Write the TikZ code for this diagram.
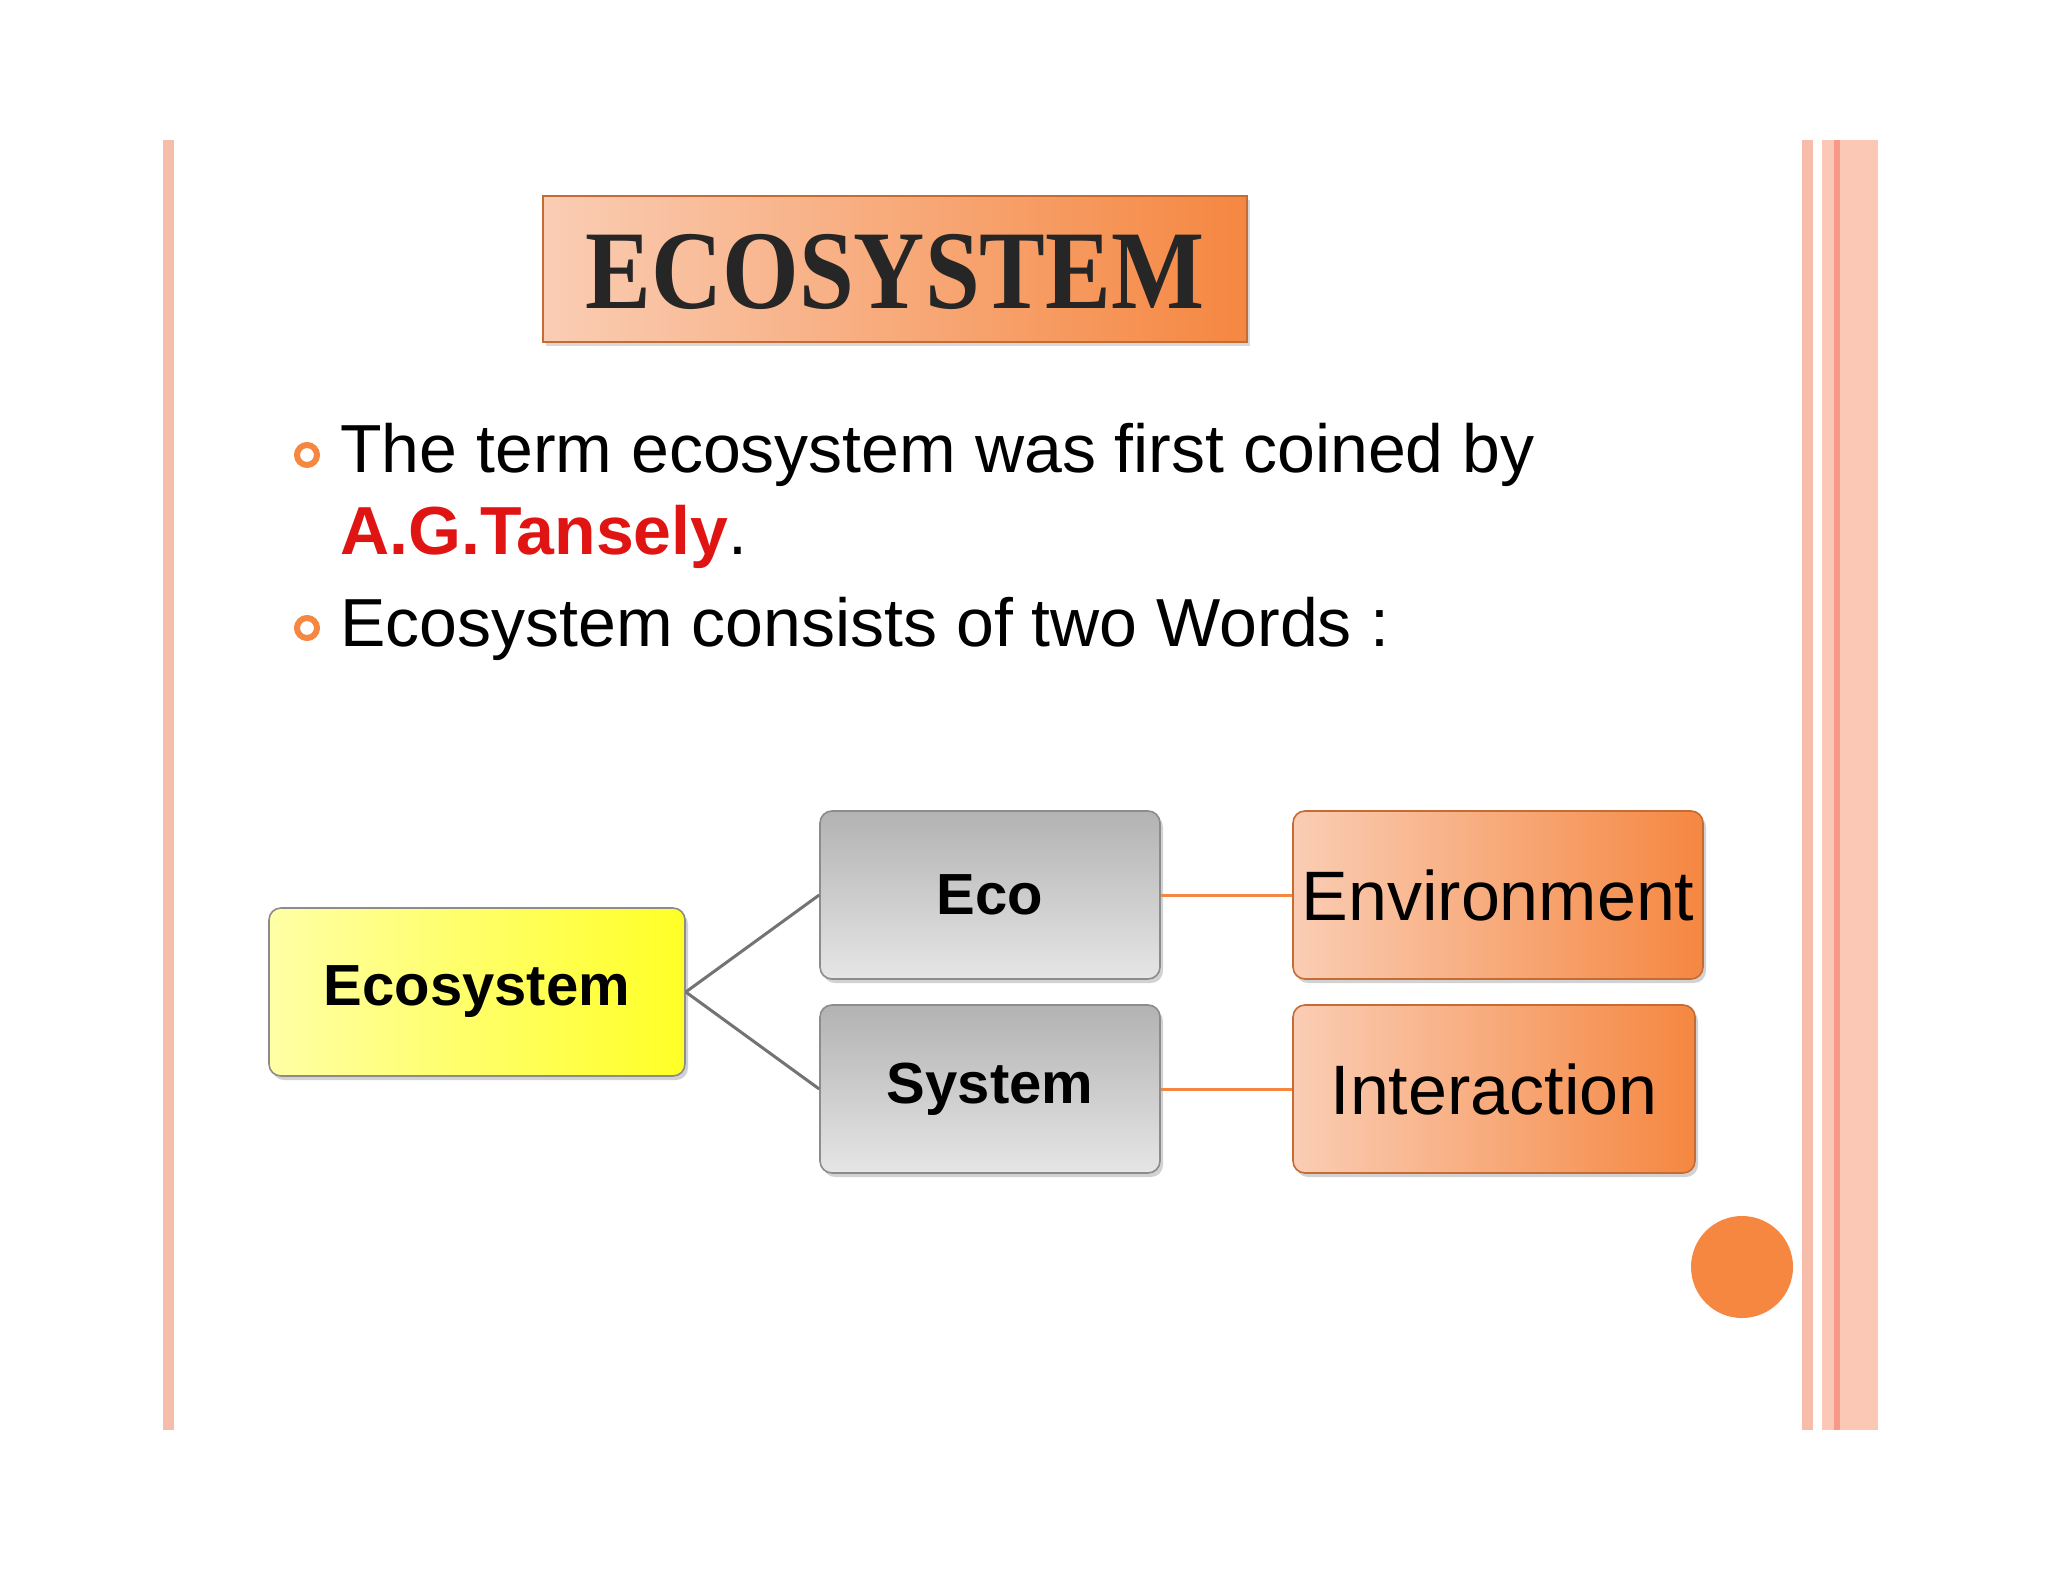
\documentclass[tikz,border=0pt]{standalone}
\usepackage{fontspec}
\setmainfont{Liberation Sans}
\newfontfamily\titlefont{Liberation Serif}
\usetikzlibrary{shadows}
\definecolor{borderpink}{RGB}{246,190,170}
\definecolor{bandpink}{RGB}{250,200,180}
\definecolor{orng}{RGB}{245,135,65}
\definecolor{peach}{RGB}{250,205,180}
\definecolor{tred}{RGB}{225,20,20}
\tikzset{
  box/.style={rounded corners=6pt, draw=black!45, line width=0.8pt, minimum width=#1, minimum height=84pt, inner sep=0pt,
    drop shadow={opacity=0.35, shadow xshift=1.5pt, shadow yshift=-2pt}},
  graybox/.style={box=170pt, top color=black!30, bottom color=black!10, font=\bfseries\fontsize{29}{34}\selectfont},
  orbox/.style={box=#1, left color=peach, right color=orng, draw=orng!80!black, font=\fontsize{35}{40}\selectfont},
  yelbox/.style={box=208pt, left color=yellow!35, right color=yellow!85, draw=black!45, font=\bfseries\fontsize{29}{34}\selectfont},
  bul/.style={circle, draw=orng, line width=3pt, minimum size=10pt, inner sep=0pt},
  body/.style={anchor=base west, inner sep=0pt, font=\fontsize{34}{40}\selectfont},
  conn/.style={draw=black!55, line width=1.5pt},
  oconn/.style={draw=orng, line width=1.5pt}
}
\begin{document}
\begin{tikzpicture}[x=0.5pt,y=-0.5pt]
\useasboundingbox[fill=white] (0,0) rectangle (2048,1582);
% borders
\fill[borderpink] (163,140) rectangle (174,1430);
\fill[borderpink] (1802,140) rectangle (1813,1430);
\fill[bandpink] (1822,140) rectangle (1878,1430);
\fill[borderpink!80!red] (1834,140) rectangle (1840,1430);
% title
\node[draw=orng!80!black, line width=0.8pt, left color=peach, right color=orng, minimum width=352pt, minimum height=73pt,
  drop shadow={opacity=0.3, shadow xshift=1.5pt, shadow yshift=-2pt}] (title) at (895,269) {};
\node[font=\titlefont\bfseries\fontsize{56}{60}\selectfont, text=black!85, xscale=0.88] (titletext) at (895,272)
  {ECOSYSTEM};
% bullets and text
\node[bul] (b1) at (307,455) {};
\node[body] (t1) at (340,473) {The term ecosystem was first coined by};
\node[body] (t2) at (340,555) {\textbf{\textcolor{tred}{A.G.Tansely}}.};
\node[bul] (b2) at (307,628) {};
\node[body] (t3) at (340,646) {Ecosystem consists of two Words :};
% diagram
\node[yelbox] (eco) at (477,992) {Ecosystem};
\node[graybox] (e1) at (990,895) {Eco};
\node[graybox] (s1) at (990,1089) {System};
\node[orbox=205pt] (env) at (1498,895) {Environment};
\node[orbox=201pt] (int) at (1494,1089) {Interaction};
\draw[conn] (eco.east) -- (e1.west);
\draw[conn] (eco.east) -- (s1.west);
\draw[oconn] (e1.east) -- (env.west);
\draw[oconn] (s1.east) -- (int.west);
\node[circle, fill=orng, minimum size=51pt, inner sep=0pt] (dot) at (1742,1267) {};
\end{tikzpicture}
\end{document}
